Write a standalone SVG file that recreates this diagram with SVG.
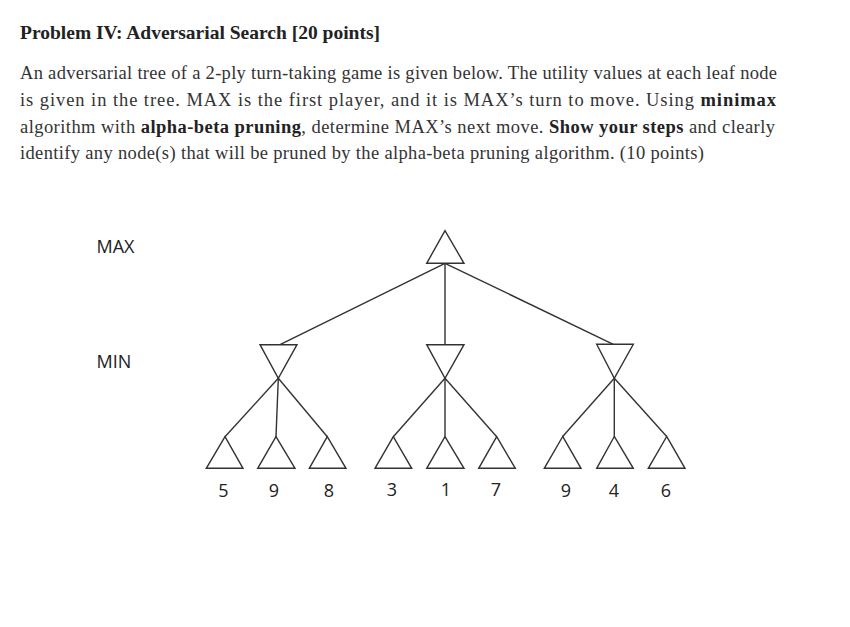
<svg xmlns="http://www.w3.org/2000/svg" width="850" height="627" viewBox="0 0 850 627">
<style>
.title{font-family:"Liberation Serif",serif;font-weight:bold;font-size:19.5px;fill:#222}
.body{font-family:"Liberation Serif",serif;font-size:18.5px;fill:#333}
.b{font-weight:bold;fill:#222}
.lbl{font-family:"Open Sans","Liberation Sans",sans-serif;font-size:18px;fill:#222}
.num{font-family:"Open Sans","Liberation Sans",sans-serif;font-size:18px;fill:#222;text-anchor:middle}
.tri{fill:#fff;stroke:#333;stroke-width:1.4;stroke-linejoin:miter}
.edge{stroke:#333;stroke-width:1.4;fill:none}
</style>
<rect width="850" height="627" fill="#fff"/>
<text class="title" x="20" y="39" textLength="360" lengthAdjust="spacingAndGlyphs">Problem IV: Adversarial Search [20 points]</text>
<text class="body" x="20" y="79" textLength="757" lengthAdjust="spacing">An adversarial tree of a 2-ply turn-taking game is given below. The utility values at each leaf node</text>
<text class="body" x="20" y="106" textLength="756" lengthAdjust="spacing">is given in the tree. MAX is the first player, and it is MAX’s turn to move. Using <tspan class="b">minimax</tspan></text>
<text class="body" x="20" y="132.5" textLength="755" lengthAdjust="spacing">algorithm with <tspan class="b">alpha-beta pruning</tspan>, determine MAX’s next move. <tspan class="b">Show your steps</tspan> and clearly</text>
<text class="body" x="20" y="159" textLength="684" lengthAdjust="spacing">identify any node(s) that will be pruned by the alpha-beta pruning algorithm. (10 points)</text>

<text class="lbl" x="96.5" y="253">MAX</text>
<text class="lbl" x="96.5" y="368">MIN</text>

<g id="connectors">
<line class="edge" x1="445" y1="263.3" x2="280" y2="344.7"/>
<line class="edge" x1="445" y1="263.3" x2="445" y2="344.7"/>
<line class="edge" x1="445" y1="263.3" x2="613.3" y2="344.3"/>
<line class="edge" x1="278.3" y1="378.3" x2="225" y2="436.7"/>
<line class="edge" x1="278.3" y1="378.3" x2="276" y2="436.7"/>
<line class="edge" x1="278.3" y1="378.3" x2="327.3" y2="436.7"/>
<line class="edge" x1="445" y1="378.3" x2="393.3" y2="436.7"/>
<line class="edge" x1="445" y1="378.3" x2="445" y2="436.7"/>
<line class="edge" x1="445" y1="378.3" x2="496.7" y2="436.7"/>
<line class="edge" x1="614.3" y1="378.3" x2="562.7" y2="436.5"/>
<line class="edge" x1="614.3" y1="378.3" x2="614.3" y2="436.5"/>
<line class="edge" x1="614.3" y1="378.3" x2="666.7" y2="436.5"/>
</g>

<g id="root"><polygon class="tri" points="445,230.7 426.7,263.3 464,263.3"/></g>
<g id="min1"><polygon class="tri" points="260,344.7 297,344.7 278.3,378.3"/></g>
<g id="min2"><polygon class="tri" points="426.7,344.7 464,344.7 445,378.3"/></g>
<g id="min3"><polygon class="tri" points="596.7,344.3 633.3,344.3 614.3,378.3"/></g>

<g id="leaf1"><polygon class="tri" points="225,436.7 206.3,468.3 243,468.3"/><text class="num" x="223.3" y="497">5</text></g>
<g id="leaf2"><polygon class="tri" points="276,436.7 257.7,468.3 295,468.3"/><text class="num" x="274" y="497">9</text></g>
<g id="leaf3"><polygon class="tri" points="327.3,436.7 309.3,468.3 346,468.3"/><text class="num" x="329" y="497">8</text></g>
<g id="leaf4"><polygon class="tri" points="393.3,436.7 375,468.3 411.7,468.3"/><text class="num" x="392" y="495.5">3</text></g>
<g id="leaf5"><polygon class="tri" points="445,436.7 426.7,468.3 464,468.3"/><text class="num" x="446" y="495.5">1</text></g>
<g id="leaf6"><polygon class="tri" points="496.7,436.7 478.7,468.3 515.3,468.3"/><text class="num" x="496" y="495.5">7</text></g>
<g id="leaf7"><polygon class="tri" points="562.7,436.5 544.3,468.3 581,468.3"/><text class="num" x="566" y="497">9</text></g>
<g id="leaf8"><polygon class="tri" points="614.3,436.5 596.7,468.3 633.3,468.3"/><text class="num" x="614" y="497">4</text></g>
<g id="leaf9"><polygon class="tri" points="666.7,436.5 648.3,468.3 685,468.3"/><text class="num" x="666" y="497">6</text></g>
</svg>
